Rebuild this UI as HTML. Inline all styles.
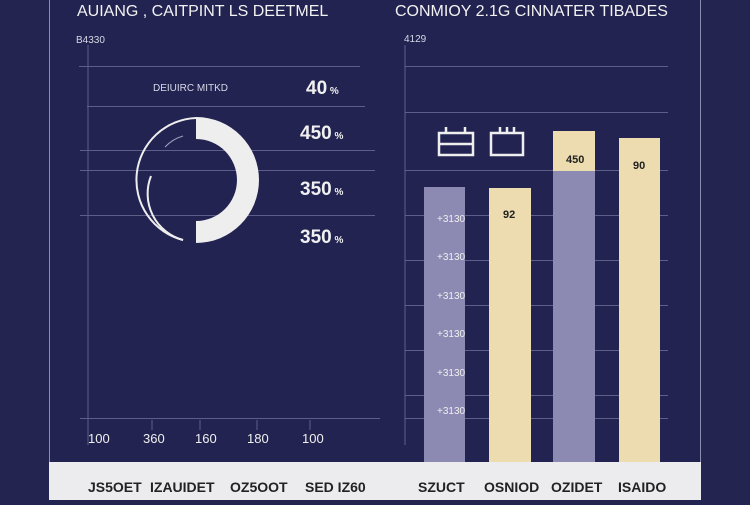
<!DOCTYPE html>
<html><head><style>
body{margin:0;width:750px;height:500px;overflow:hidden;background:#232450;font-family:"Liberation Sans",sans-serif}
</style></head><body>
<svg width="750" height="500" xmlns="http://www.w3.org/2000/svg" font-family="Liberation Sans, sans-serif">
<rect width="750" height="500" fill="#232450"/>
<rect x="49" y="0" width="651" height="462" fill="#222350"/>
<line x1="49.5" y1="0" x2="49.5" y2="500" stroke="#8a8cb0" stroke-width="1"/>
<line x1="700.5" y1="0" x2="700.5" y2="500" stroke="#8a8cb0" stroke-width="1"/>
<rect x="49" y="462" width="652" height="38" fill="#ececee"/>
<!-- left -->
<text x="77" y="16" fill="#f2f2f2" font-size="16">AUIANG , CAITPINT LS DEETMEL</text>
<text x="76" y="43" fill="#d8d8e8" font-size="10">B4330</text>
<g stroke="#5d5f8a" stroke-width="1">
<line x1="88" y1="45" x2="88" y2="445"/>
<line x1="79" y1="66.5" x2="360" y2="66.5"/>
<line x1="87" y1="106.5" x2="365" y2="106.5"/>
<line x1="80" y1="150.5" x2="375" y2="150.5"/>
<line x1="80" y1="170.5" x2="375" y2="170.5"/>
<line x1="80" y1="215.5" x2="375" y2="215.5"/>
<line x1="80" y1="418.5" x2="380" y2="418.5"/>
<line x1="152" y1="420" x2="152" y2="430"/><line x1="200" y1="420" x2="200" y2="430"/>
<line x1="257" y1="420" x2="257" y2="430"/><line x1="310" y1="420" x2="310" y2="430"/>
</g>
<text x="153" y="91" fill="#d8d8e8" font-size="10">DEIUIRC MITKD</text>
<g fill="#f0f0f0" font-size="19" font-weight="bold">
<text x="306" y="94">40<tspan font-size="10"> %</tspan></text>
<text x="300" y="139">450<tspan font-size="10"> %</tspan></text>
<text x="300" y="195">350<tspan font-size="10"> %</tspan></text>
<text x="300" y="243">350<tspan font-size="10"> %</tspan></text>
</g>
<path d="M196 117 A63 63 0 0 1 196 243 L196 221 A41 41 0 0 0 196 139 Z" fill="#eeeeee"/>
<path d="M196 118 A62 62 0 0 0 183 240" fill="none" stroke="#eeeeee" stroke-width="2"/>
<path d="M151 176 A48 48 0 0 0 183 240" fill="none" stroke="#eeeeee" stroke-width="2"/>
<path d="M165 147 A40 40 0 0 1 183 136" fill="none" stroke="#a0a0c0" stroke-width="1"/>
<g fill="#f0f0f0" font-size="13">
<text x="88" y="443">100</text><text x="143" y="443">360</text><text x="195" y="443">160</text><text x="247" y="443">180</text><text x="302" y="443">100</text>
</g>
<!-- right -->
<text x="395" y="16" fill="#f2f2f2" font-size="16">CONMIOY 2.1G CINNATER TIBADES</text>
<text x="404" y="42" fill="#d8d8e8" font-size="10">4129</text>
<g stroke="#5d5f8a" stroke-width="1">
<line x1="405" y1="45" x2="405" y2="445"/>
<line x1="405" y1="66.5" x2="668" y2="66.5"/>
<line x1="405" y1="112.5" x2="668" y2="112.5"/>
<line x1="405" y1="170.5" x2="668" y2="170.5"/>
<line x1="405" y1="215.5" x2="668" y2="215.5"/>
<line x1="405" y1="260.5" x2="668" y2="260.5"/>
<line x1="405" y1="305.5" x2="668" y2="305.5"/>
<line x1="405" y1="350.5" x2="668" y2="350.5"/>
<line x1="405" y1="395.5" x2="668" y2="395.5"/>
<line x1="405" y1="418.5" x2="668" y2="418.5"/>
</g>
<rect x="424" y="187" width="41" height="275" fill="#8c89b2"/>
<rect x="489" y="188" width="42" height="274" fill="#ecdcb0"/>
<rect x="553" y="131" width="42" height="40" fill="#ecdcb0"/>
<rect x="553" y="171" width="42" height="291" fill="#8c89b2"/>
<rect x="619" y="138" width="41" height="324" fill="#ecdcb0"/>
<g fill="#f0f0f0" font-size="10">
<text x="437" y="222">+3130</text><text x="437" y="260">+3130</text><text x="437" y="299">+3130</text>
<text x="437" y="337">+3130</text><text x="437" y="376">+3130</text><text x="437" y="414">+3130</text>
</g>
<g fill="#222" font-size="11" font-weight="bold">
<text x="503" y="218">92</text><text x="566" y="163">450</text><text x="633" y="169">90</text>
</g>
<g fill="none" stroke="#eeeeee" stroke-width="2.5">
<rect x="439" y="133" width="34" height="22"/><line x1="439" y1="144" x2="473" y2="144"/>
<line x1="446" y1="127" x2="446" y2="133"/><line x1="465" y1="127" x2="465" y2="133"/>
<rect x="491" y="133" width="32" height="22"/>
<line x1="500" y1="127" x2="500" y2="133"/><line x1="507" y1="127" x2="507" y2="133"/><line x1="514" y1="127" x2="514" y2="133"/>
</g>
<g fill="#222" font-size="14" font-weight="bold">
<text x="88" y="492">JS5OET</text><text x="150" y="492">IZAUIDET</text><text x="230" y="492">OZ5OOT</text><text x="305" y="492">SED IZ60</text>
<text x="418" y="492">SZUCT</text><text x="484" y="492">OSNIOD</text><text x="551" y="492">OZIDET</text><text x="618" y="492">ISAIDO</text>
</g>
</svg>
</body></html>
